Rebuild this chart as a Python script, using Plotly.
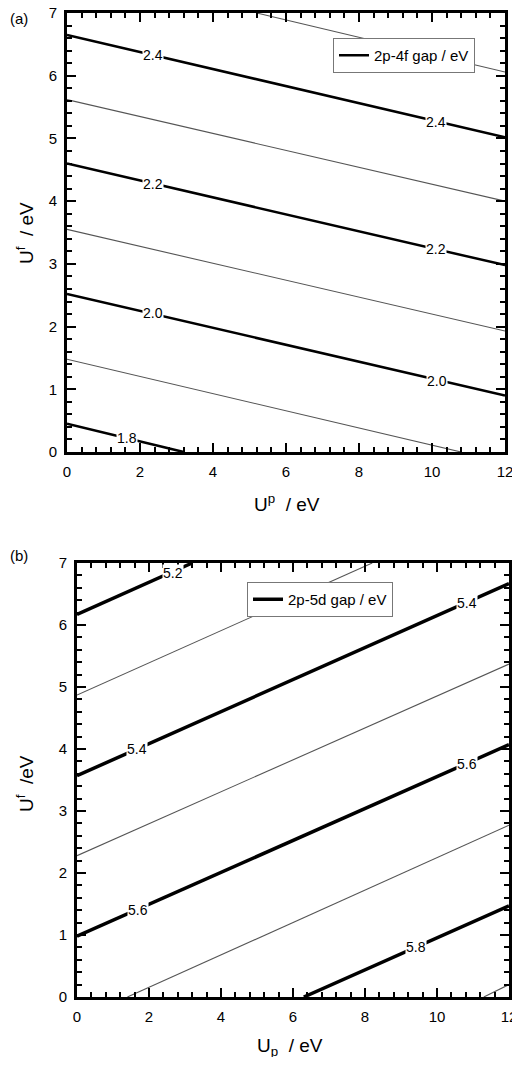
import plotly.graph_objects as go

# panel (a): 2p-4f gap contour lines, end points read at the frame edges
levels_a = [1.8, 1.9, 2.0, 2.1, 2.2, 2.3, 2.4, 2.5]
a_up_start = [0, 0, 0, 0, 0, 0, 0, 5.2]
a_uf_start = [0.45, 1.48, 2.52, 3.55, 4.60, 5.62, 6.65, 7.0]
a_up_end = [3.2, 10.8, 12, 12, 12, 12, 12, 12]
a_uf_end = [0, 0, 0.90, 1.93, 2.98, 4.00, 5.02, 6.06]

lab_a_text = ["2.4", "2.4", "2.2", "2.2", "2.0", "2.0", "1.8"]
lab_a_up = [2.35, 10.1, 2.35, 10.1, 2.35, 10.15, 1.65]
lab_a_uf = [6.33, 5.26, 4.28, 3.23, 2.22, 1.14, 0.23]

# panel (b): 2p-5d gap
levels_b = [5.2, 5.3, 5.4, 5.5, 5.6, 5.7, 5.8, 5.9]
b_up_start = [0, 0, 0, 0, 0, 1.4, 6.3, 11.3]
b_uf_start = [6.17, 4.87, 3.57, 2.28, 0.98, 0, 0, 0]
b_up_end = [3.2, 8.2, 12, 12, 12, 12, 12, 12]
b_uf_end = [7, 7, 6.67, 5.37, 4.07, 2.77, 1.47, 0.2]

lab_b_text = ["5.2", "5.4", "5.4", "5.6", "5.6", "5.8"]
lab_b_up = [2.67, 10.83, 1.67, 10.83, 1.69, 9.42]
lab_b_uf = [6.84, 6.36, 4.0, 3.76, 1.41, 0.81]

FONT = "Liberation Sans, Arial, sans-serif"

fig = go.Figure()


def add_lines(levels, x0, y0, x1, y1, xa, ya, thick_w, name, legend):
    first = True
    for i, lv in enumerate(levels):
        major = round(lv * 10) % 2 == 0
        fig.add_trace(go.Scatter(
            x=[x0[i], x1[i]], y=[y0[i], y1[i]], mode="lines",
            xaxis=xa, yaxis=ya,
            line=dict(color="black" if major else "#555555",
                      width=thick_w if major else 1.1),
            name=name, legend=legend,
            showlegend=bool(major and first), hoverinfo="skip"))
        if major:
            first = False


add_lines(levels_a, a_up_start, a_uf_start, a_up_end, a_uf_end,
          "x", "y", 2.5, "2p-4f gap / eV", "legend")
add_lines(levels_b, b_up_start, b_uf_start, b_up_end, b_uf_end,
          "x2", "y2", 3.5, "2p-5d gap / eV", "legend2")

ann = []
for t, u, f in zip(lab_a_text, lab_a_up, lab_a_uf):
    ann.append(dict(x=u, y=f, xref="x", yref="y", text=t, showarrow=False,
                    bgcolor="white", borderpad=0,
                    font=dict(size=14, color="black", family=FONT)))
for t, u, f in zip(lab_b_text, lab_b_up, lab_b_uf):
    ann.append(dict(x=u, y=f, xref="x2", yref="y2", text=t, showarrow=False,
                    bgcolor="white", borderpad=0,
                    font=dict(size=14, color="black", family=FONT)))

# axis titles and panel letters
ttl = dict(size=19, color="black", family=FONT)
mid = dict(xref="paper", yref="paper", showarrow=False,
           xanchor="center", yanchor="middle", font=ttl)
ann += [
    dict(mid, x=0.5449, y=0.5281, text="U<sup>p</sup>  / eV"),
    dict(mid, x=0.0332, y=0.7855, text="U<sup>f</sup>  / eV", textangle=-90),
    dict(mid, x=0.5508, y=0.0100, text="U<sub>p</sub>  / eV"),
    dict(mid, x=0.0332, y=0.2612, text="U<sup>f</sup>  /eV", textangle=-90),
    dict(x=0.0, y=1.0, xref="paper", yref="paper", text="(a)", showarrow=False,
         xanchor="left", yanchor="top", font=dict(size=15, color="black", family=FONT)),
    dict(x=0.0, y=0.4881, xref="paper", yref="paper", text="(b)", showarrow=False,
         xanchor="left", yanchor="top", font=dict(size=15, color="black", family=FONT)),
]


def xax(domain):
    return dict(domain=domain, range=[0, 12], dtick=2, showline=True, linewidth=3,
                linecolor="black", mirror="allticks", ticks="inside", ticklen=9,
                tickwidth=2, tickcolor="black", showgrid=False, zeroline=False,
                ticklabelstandoff=4, automargin=False, ticklabeloverflow="allow",
                minor=dict(dtick=0.4, ticks="inside", ticklen=5, tickwidth=1.5,
                           tickcolor="black", showgrid=False),
                tickfont=dict(size=15, color="black", family=FONT))


def yax(domain, anchor):
    return dict(domain=domain, range=[0, 7], dtick=1, showline=True, linewidth=3,
                linecolor="black", mirror="allticks", ticks="inside", ticklen=9,
                tickwidth=2, tickcolor="black", showgrid=False, zeroline=False,
                anchor=anchor, ticklabelstandoff=4, automargin=False,
                ticklabeloverflow="allow",
                minor=dict(dtick=0.2, ticks="inside", ticklen=5, tickwidth=1.5,
                           tickcolor="black", showgrid=False),
                tickfont=dict(size=15, color="black", family=FONT))


leg = dict(bgcolor="white", bordercolor="#777777", borderwidth=1,
           font=dict(size=15, color="black", family=FONT),
           xanchor="left", yanchor="top", itemwidth=30)

# the page body adds an 8 px margin round the figure
fig.update_layout(
    template="none",
    width=512, height=1049, margin=dict(l=0, r=0, t=0, b=0),
    paper_bgcolor="white", plot_bgcolor="white",
    xaxis=xax([0.1152, 0.9707]),
    yaxis=yax([0.5767, 0.9952], "x"),
    xaxis2=dict(xax([0.1348, 0.9785]), anchor="y2"),
    yaxis2=yax([0.0572, 0.4709], "x2"),
    legend=dict(leg, x=0.6348, y=0.9714),
    legend2=dict(leg, x=0.4668, y=0.4528),
    annotations=ann,
)

fig.write_html("out.html")
